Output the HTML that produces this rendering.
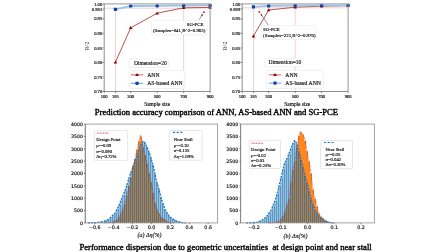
<!DOCTYPE html>
<html><head><meta charset="utf-8"><style>
html,body{margin:0;padding:0;background:#fff;width:448px;height:252px;overflow:hidden}
svg{display:block}
</style></head><body>
<svg width="448" height="252" viewBox="0 0 448 252"><line x1="115.45" y1="91.50" x2="115.45" y2="8.20" stroke="#f0c6ca" stroke-width="0.85"/>
<line x1="183.62" y1="91.50" x2="183.62" y2="8.20" stroke="#f0c6ca" stroke-width="0.85"/>
<line x1="104.20" y1="8.20" x2="210.10" y2="8.20" stroke="#f0c6ca" stroke-width="0.85"/>
<polyline points="115.45,62.30 130.68,27.80 157.15,13.20 183.62,7.80 210.10,7.40" fill="none" stroke="#a82424" stroke-width="0.8"/>
<polygon points="113.65,63.60 117.25,63.60 115.45,60.50" fill="#900000"/>
<polygon points="128.88,29.10 132.48,29.10 130.68,26.00" fill="#900000"/>
<polygon points="155.35,14.50 158.95,14.50 157.15,11.40" fill="#900000"/>
<polygon points="181.82,9.10 185.43,9.10 183.62,6.00" fill="#900000"/>
<polygon points="208.30,8.70 211.90,8.70 210.10,5.60" fill="#900000"/>
<polyline points="115.45,9.30 130.68,6.00 157.15,5.80 183.62,5.50 210.10,5.40" fill="none" stroke="#98c4e6" stroke-width="1.8"/>
<rect x="113.85" y="7.70" width="3.2" height="3.2" rx="0.6" fill="#0b44a6"/>
<rect x="129.08" y="4.40" width="3.2" height="3.2" rx="0.6" fill="#0b44a6"/>
<rect x="155.55" y="4.20" width="3.2" height="3.2" rx="0.6" fill="#0b44a6"/>
<rect x="182.03" y="3.90" width="3.2" height="3.2" rx="0.6" fill="#0b44a6"/>
<rect x="208.50" y="3.80" width="3.2" height="3.2" rx="0.6" fill="#0b44a6"/>
<circle cx="204.00" cy="12.20" r="1.0" fill="#ff1a1a"/>
<line x1="202.70" y1="14.00" x2="199.10" y2="19.80" stroke="#333" stroke-width="0.5"/>
<polygon points="202.70,14.00 200.98,15.17 202.42,16.06" fill="#111"/>
<rect x="151.5" y="20.2" width="55.80" height="14.50" rx="1" fill="#fff" fill-opacity="0.85" stroke="#e4e4e4" stroke-width="0.5"/>
<text x="203.50" y="26.30" font-size="4.85" font-family="'Liberation Serif','Times New Roman',serif" text-anchor="end" fill="#111" stroke="#111" stroke-width="0.15" >SG-PCE</text>
<text x="152.90" y="32.40" font-size="4.85" font-family="'Liberation Serif','Times New Roman',serif" text-anchor="start" fill="#111" stroke="#111" stroke-width="0.15" >(Samples=841,R^2=0.963)</text>
<rect x="129.2" y="58.9" width="39.10" height="8.60" rx="1" fill="#fff" stroke="#e0e0e0" stroke-width="0.5"/>
<text x="133.90" y="65.30" font-size="5.5" font-family="'Liberation Serif','Times New Roman',serif" text-anchor="start" fill="#111" stroke="#111" stroke-width="0.15" >Dimension=20</text>
<rect x="129.2" y="70.7" width="55.50" height="17.80" rx="1" fill="#fff" fill-opacity="0.9" stroke="#e0e0e0" stroke-width="0.5"/>
<line x1="130.8" y1="74.8" x2="143.3" y2="74.8" stroke="#cc7070" stroke-width="1.1"/>
<polygon points="135.15,76.10 138.95,76.10 137.05,72.90" fill="#900000"/>
<line x1="130.8" y1="83.3" x2="143.3" y2="83.3" stroke="#6a9fd0" stroke-width="1.0"/>
<rect x="135.45" y="81.70" width="3.2" height="3.2" rx="0.6" fill="#0b44a6"/>
<text x="147.20" y="76.70" font-size="5.7" font-family="'Liberation Serif','Times New Roman',serif" text-anchor="start" fill="#111" stroke="#111" stroke-width="0.15" >ANN</text>
<text x="147.20" y="85.20" font-size="5.7" font-family="'Liberation Serif','Times New Roman',serif" text-anchor="start" fill="#111" stroke="#111" stroke-width="0.15" >AS-based ANN</text>
<line x1="104.20" y1="3.80" x2="210.10" y2="3.80" stroke="#ababab" stroke-width="1.3"/>
<line x1="210.10" y1="3.80" x2="210.10" y2="91.50" stroke="#8e8e8e" stroke-width="0.95"/>
<line x1="104.20" y1="91.50" x2="210.10" y2="91.50" stroke="#8a8a8a" stroke-width="0.95"/>
<line x1="104.20" y1="3.80" x2="104.20" y2="91.50" stroke="#808080" stroke-width="0.9"/>
<line x1="104.20" y1="91.50" x2="104.20" y2="93.10" stroke="#444" stroke-width="0.6"/>
<text x="104.20" y="98.40" font-size="4.6" font-family="'Liberation Serif','Times New Roman',serif" text-anchor="middle" fill="#111" stroke="#111" stroke-width="0.15" >100</text>
<line x1="115.45" y1="91.50" x2="115.45" y2="93.10" stroke="#444" stroke-width="0.6"/>
<text x="115.45" y="98.40" font-size="4.6" font-family="'Liberation Serif','Times New Roman',serif" text-anchor="middle" fill="#111" stroke="#111" stroke-width="0.15" >185</text>
<line x1="130.68" y1="91.50" x2="130.68" y2="93.10" stroke="#444" stroke-width="0.6"/>
<text x="130.68" y="98.40" font-size="4.6" font-family="'Liberation Serif','Times New Roman',serif" text-anchor="middle" fill="#111" stroke="#111" stroke-width="0.15" >300</text>
<line x1="157.15" y1="91.50" x2="157.15" y2="93.10" stroke="#444" stroke-width="0.6"/>
<text x="157.15" y="98.40" font-size="4.6" font-family="'Liberation Serif','Times New Roman',serif" text-anchor="middle" fill="#111" stroke="#111" stroke-width="0.15" >500</text>
<line x1="183.62" y1="91.50" x2="183.62" y2="93.10" stroke="#444" stroke-width="0.6"/>
<text x="183.62" y="98.40" font-size="4.6" font-family="'Liberation Serif','Times New Roman',serif" text-anchor="middle" fill="#111" stroke="#111" stroke-width="0.15" >700</text>
<line x1="210.10" y1="91.50" x2="210.10" y2="93.10" stroke="#444" stroke-width="0.6"/>
<text x="210.10" y="98.40" font-size="4.6" font-family="'Liberation Serif','Times New Roman',serif" text-anchor="middle" fill="#111" stroke="#111" stroke-width="0.15" >900</text>
<line x1="102.60" y1="4.00" x2="104.20" y2="4.00" stroke="#444" stroke-width="0.6"/>
<text x="102.20" y="5.60" font-size="4.6" font-family="'Liberation Serif','Times New Roman',serif" text-anchor="end" fill="#111" stroke="#111" stroke-width="0.15" >1.00</text>
<line x1="102.60" y1="9.20" x2="104.20" y2="9.20" stroke="#444" stroke-width="0.6"/>
<text x="102.20" y="10.80" font-size="4.6" font-family="'Liberation Serif','Times New Roman',serif" text-anchor="end" fill="#111" stroke="#111" stroke-width="0.15" >0.983</text>
<line x1="102.60" y1="18.70" x2="104.20" y2="18.70" stroke="#444" stroke-width="0.6"/>
<text x="102.20" y="20.30" font-size="4.6" font-family="'Liberation Serif','Times New Roman',serif" text-anchor="end" fill="#111" stroke="#111" stroke-width="0.15" >0.95</text>
<line x1="102.60" y1="33.30" x2="104.20" y2="33.30" stroke="#444" stroke-width="0.6"/>
<text x="102.20" y="34.90" font-size="4.6" font-family="'Liberation Serif','Times New Roman',serif" text-anchor="end" fill="#111" stroke="#111" stroke-width="0.15" >0.90</text>
<line x1="102.60" y1="47.90" x2="104.20" y2="47.90" stroke="#444" stroke-width="0.6"/>
<text x="102.20" y="49.50" font-size="4.6" font-family="'Liberation Serif','Times New Roman',serif" text-anchor="end" fill="#111" stroke="#111" stroke-width="0.15" >0.85</text>
<line x1="102.60" y1="62.40" x2="104.20" y2="62.40" stroke="#444" stroke-width="0.6"/>
<text x="102.20" y="64.00" font-size="4.6" font-family="'Liberation Serif','Times New Roman',serif" text-anchor="end" fill="#111" stroke="#111" stroke-width="0.15" >0.80</text>
<line x1="102.60" y1="77.00" x2="104.20" y2="77.00" stroke="#444" stroke-width="0.6"/>
<text x="102.20" y="78.60" font-size="4.6" font-family="'Liberation Serif','Times New Roman',serif" text-anchor="end" fill="#111" stroke="#111" stroke-width="0.15" >0.75</text>
<line x1="102.60" y1="91.50" x2="104.20" y2="91.50" stroke="#444" stroke-width="0.6"/>
<text x="102.20" y="93.10" font-size="4.6" font-family="'Liberation Serif','Times New Roman',serif" text-anchor="end" fill="#111" stroke="#111" stroke-width="0.15" >0.70</text>
<text x="157.15" y="105.60" font-size="5.4" font-family="'Liberation Serif','Times New Roman',serif" text-anchor="middle" fill="#111" stroke="#111" stroke-width="0.15" >Sample size</text>
<text transform="translate(89.20,45.85) rotate(-90)" font-size="5.2" font-family="'Liberation Serif','Times New Roman',serif" text-anchor="middle" fill="#111">R^2</text>
<line x1="253.45" y1="91.50" x2="253.45" y2="7.80" stroke="#f0c6ca" stroke-width="0.85"/>
<line x1="295.15" y1="91.50" x2="295.15" y2="7.80" stroke="#f0c6ca" stroke-width="0.85"/>
<line x1="242.20" y1="7.80" x2="348.10" y2="7.80" stroke="#f0c6ca" stroke-width="0.85"/>
<polyline points="253.45,36.10 268.68,10.00 295.15,7.20 321.62,6.20 348.10,5.60" fill="none" stroke="#a82424" stroke-width="0.8"/>
<polygon points="251.65,37.40 255.25,37.40 253.45,34.30" fill="#900000"/>
<polygon points="266.88,11.30 270.48,11.30 268.68,8.20" fill="#900000"/>
<polygon points="293.35,8.50 296.95,8.50 295.15,5.40" fill="#900000"/>
<polygon points="319.82,7.50 323.43,7.50 321.62,4.40" fill="#900000"/>
<polygon points="346.30,6.90 349.90,6.90 348.10,3.80" fill="#900000"/>
<polyline points="253.45,6.90 268.68,5.80 295.15,5.60 321.62,5.40 348.10,5.30" fill="none" stroke="#98c4e6" stroke-width="1.8"/>
<rect x="251.85" y="5.30" width="3.2" height="3.2" rx="0.6" fill="#0b44a6"/>
<rect x="267.07" y="4.20" width="3.2" height="3.2" rx="0.6" fill="#0b44a6"/>
<rect x="293.55" y="4.00" width="3.2" height="3.2" rx="0.6" fill="#0b44a6"/>
<rect x="320.02" y="3.80" width="3.2" height="3.2" rx="0.6" fill="#0b44a6"/>
<rect x="346.50" y="3.70" width="3.2" height="3.2" rx="0.6" fill="#0b44a6"/>
<circle cx="259.30" cy="11.90" r="1.0" fill="#ff1a1a"/>
<line x1="260.70" y1="13.80" x2="268.20" y2="25.00" stroke="#333" stroke-width="0.5"/>
<polygon points="260.70,13.80 261.05,15.85 262.46,14.91" fill="#111"/>
<rect x="261.5" y="25.6" width="54.80" height="13.90" rx="1" fill="#fff" fill-opacity="0.85" stroke="#e4e4e4" stroke-width="0.5"/>
<text x="263.10" y="30.70" font-size="4.85" font-family="'Liberation Serif','Times New Roman',serif" text-anchor="start" fill="#111" stroke="#111" stroke-width="0.15" >SG-PCE</text>
<text x="263.10" y="37.20" font-size="4.85" font-family="'Liberation Serif','Times New Roman',serif" text-anchor="start" fill="#111" stroke="#111" stroke-width="0.15" >(Samples=221,R^2=0.970)</text>
<rect x="264.7" y="58.4" width="38.30" height="8.30" rx="1" fill="#fff" stroke="#e0e0e0" stroke-width="0.5"/>
<text x="268.60" y="64.30" font-size="5.5" font-family="'Liberation Serif','Times New Roman',serif" text-anchor="start" fill="#111" stroke="#111" stroke-width="0.15" >Dimension=10</text>
<rect x="267.0" y="70.2" width="56.30" height="18.30" rx="1" fill="#fff" fill-opacity="0.9" stroke="#e0e0e0" stroke-width="0.5"/>
<line x1="268.9" y1="74.8" x2="281.1" y2="74.8" stroke="#cc7070" stroke-width="1.1"/>
<polygon points="273.10,76.10 276.90,76.10 275.00,72.90" fill="#900000"/>
<line x1="268.9" y1="83.1" x2="281.1" y2="83.1" stroke="#6a9fd0" stroke-width="1.0"/>
<rect x="273.40" y="81.50" width="3.2" height="3.2" rx="0.6" fill="#0b44a6"/>
<text x="285.30" y="76.70" font-size="5.7" font-family="'Liberation Serif','Times New Roman',serif" text-anchor="start" fill="#111" stroke="#111" stroke-width="0.15" >ANN</text>
<text x="285.30" y="85.00" font-size="5.7" font-family="'Liberation Serif','Times New Roman',serif" text-anchor="start" fill="#111" stroke="#111" stroke-width="0.15" >AS-based ANN</text>
<line x1="242.20" y1="3.80" x2="348.10" y2="3.80" stroke="#ababab" stroke-width="1.3"/>
<line x1="348.10" y1="3.80" x2="348.10" y2="91.50" stroke="#8e8e8e" stroke-width="0.95"/>
<line x1="242.20" y1="91.50" x2="348.10" y2="91.50" stroke="#8a8a8a" stroke-width="0.95"/>
<line x1="242.20" y1="3.80" x2="242.20" y2="91.50" stroke="#808080" stroke-width="0.9"/>
<line x1="242.20" y1="91.50" x2="242.20" y2="93.10" stroke="#444" stroke-width="0.6"/>
<text x="242.20" y="98.40" font-size="4.6" font-family="'Liberation Serif','Times New Roman',serif" text-anchor="middle" fill="#111" stroke="#111" stroke-width="0.15" >100</text>
<line x1="253.45" y1="91.50" x2="253.45" y2="93.10" stroke="#444" stroke-width="0.6"/>
<text x="253.45" y="98.40" font-size="4.6" font-family="'Liberation Serif','Times New Roman',serif" text-anchor="middle" fill="#111" stroke="#111" stroke-width="0.15" >185</text>
<line x1="268.68" y1="91.50" x2="268.68" y2="93.10" stroke="#444" stroke-width="0.6"/>
<text x="268.68" y="98.40" font-size="4.6" font-family="'Liberation Serif','Times New Roman',serif" text-anchor="middle" fill="#111" stroke="#111" stroke-width="0.15" >300</text>
<line x1="295.15" y1="91.50" x2="295.15" y2="93.10" stroke="#444" stroke-width="0.6"/>
<text x="295.15" y="98.40" font-size="4.6" font-family="'Liberation Serif','Times New Roman',serif" text-anchor="middle" fill="#111" stroke="#111" stroke-width="0.15" >500</text>
<line x1="321.62" y1="91.50" x2="321.62" y2="93.10" stroke="#444" stroke-width="0.6"/>
<text x="321.62" y="98.40" font-size="4.6" font-family="'Liberation Serif','Times New Roman',serif" text-anchor="middle" fill="#111" stroke="#111" stroke-width="0.15" >700</text>
<line x1="348.10" y1="91.50" x2="348.10" y2="93.10" stroke="#444" stroke-width="0.6"/>
<text x="348.10" y="98.40" font-size="4.6" font-family="'Liberation Serif','Times New Roman',serif" text-anchor="middle" fill="#111" stroke="#111" stroke-width="0.15" >900</text>
<line x1="240.60" y1="3.90" x2="242.20" y2="3.90" stroke="#444" stroke-width="0.6"/>
<text x="240.20" y="5.50" font-size="4.6" font-family="'Liberation Serif','Times New Roman',serif" text-anchor="end" fill="#111" stroke="#111" stroke-width="0.15" >1.00</text>
<line x1="240.60" y1="8.90" x2="242.20" y2="8.90" stroke="#444" stroke-width="0.6"/>
<text x="240.20" y="10.50" font-size="4.6" font-family="'Liberation Serif','Times New Roman',serif" text-anchor="end" fill="#111" stroke="#111" stroke-width="0.15" >0.989</text>
<line x1="240.60" y1="18.70" x2="242.20" y2="18.70" stroke="#444" stroke-width="0.6"/>
<text x="240.20" y="20.30" font-size="4.6" font-family="'Liberation Serif','Times New Roman',serif" text-anchor="end" fill="#111" stroke="#111" stroke-width="0.15" >0.95</text>
<line x1="240.60" y1="33.30" x2="242.20" y2="33.30" stroke="#444" stroke-width="0.6"/>
<text x="240.20" y="34.90" font-size="4.6" font-family="'Liberation Serif','Times New Roman',serif" text-anchor="end" fill="#111" stroke="#111" stroke-width="0.15" >0.90</text>
<line x1="240.60" y1="47.90" x2="242.20" y2="47.90" stroke="#444" stroke-width="0.6"/>
<text x="240.20" y="49.50" font-size="4.6" font-family="'Liberation Serif','Times New Roman',serif" text-anchor="end" fill="#111" stroke="#111" stroke-width="0.15" >0.85</text>
<line x1="240.60" y1="62.40" x2="242.20" y2="62.40" stroke="#444" stroke-width="0.6"/>
<text x="240.20" y="64.00" font-size="4.6" font-family="'Liberation Serif','Times New Roman',serif" text-anchor="end" fill="#111" stroke="#111" stroke-width="0.15" >0.80</text>
<line x1="240.60" y1="77.00" x2="242.20" y2="77.00" stroke="#444" stroke-width="0.6"/>
<text x="240.20" y="78.60" font-size="4.6" font-family="'Liberation Serif','Times New Roman',serif" text-anchor="end" fill="#111" stroke="#111" stroke-width="0.15" >0.75</text>
<line x1="240.60" y1="91.50" x2="242.20" y2="91.50" stroke="#444" stroke-width="0.6"/>
<text x="240.20" y="93.10" font-size="4.6" font-family="'Liberation Serif','Times New Roman',serif" text-anchor="end" fill="#111" stroke="#111" stroke-width="0.15" >0.70</text>
<text x="297.25" y="105.60" font-size="5.4" font-family="'Liberation Serif','Times New Roman',serif" text-anchor="middle" fill="#111" stroke="#111" stroke-width="0.15" >Sample size</text>
<text transform="translate(227.20,45.85) rotate(-90)" font-size="5.2" font-family="'Liberation Serif','Times New Roman',serif" text-anchor="middle" fill="#111">R^2</text>
<text x="94.80" y="114.60" font-size="8.58" font-family="'Liberation Serif','Times New Roman',serif" text-anchor="start" fill="#000" stroke="#000" stroke-width="0.38" >Prediction accuracy comparison of ANN, AS-based ANN and SG-PCE</text>
<path d="M84.00,222.90L84.00,222.90L86.00,222.90L86.00,222.90L88.00,222.90L88.00,222.90L90.00,222.90L90.00,222.90L92.00,222.90L92.00,222.90L94.00,222.90L94.00,222.90L96.00,222.90L96.00,222.90L98.00,222.90L98.00,222.90L100.00,222.90L100.00,222.90L102.00,222.90L102.00,222.90L104.00,222.90L104.00,222.85L106.00,222.85L106.00,222.75L108.00,222.75L108.00,222.55L110.00,222.55L110.00,222.24L112.00,222.24L112.00,221.94L114.00,221.94L114.00,221.05L116.00,221.05L116.00,219.68L118.00,219.68L118.00,217.04L120.00,217.04L120.00,213.73L122.00,213.73L122.00,209.29L124.00,209.29L124.00,204.00L126.00,204.00L126.00,195.81L128.00,195.81L128.00,186.82L130.00,186.82L130.00,177.94L132.00,177.94L132.00,165.71L134.00,165.71L134.00,159.13L136.00,159.13L136.00,149.70L138.00,149.70L138.00,141.18L140.00,141.18L140.00,136.78L142.00,136.78L142.00,147.50L144.00,147.50L144.00,155.31L146.00,155.31L146.00,163.69L148.00,163.69L148.00,173.39L150.00,173.39L150.00,182.23L152.00,182.23L152.00,193.18L154.00,193.18L154.00,203.23L156.00,203.23L156.00,209.68L158.00,209.68L158.00,213.59L160.00,213.59L160.00,217.15L162.00,217.15L162.00,218.66L164.00,218.66L164.00,220.17L166.00,220.17L166.00,221.35L168.00,221.35L168.00,222.12L170.00,222.12L170.00,222.60L172.00,222.60L172.00,222.80L174.00,222.80L174.00,222.90L176.00,222.90L176.00,222.90L178.00,222.90L178.00,222.90L180.00,222.90L180.00,222.90L182.00,222.90L182.00,222.90L184.00,222.90L184.00,222.90L186.00,222.90L186.00,222.90L188.00,222.90L188.00,222.90L190.00,222.90L190.00,222.90L192.00,222.90L192.00,222.90L194.00,222.90L194.00,222.90L196.00,222.90L196.00,222.90L198.00,222.90L198.00,222.90L200.00,222.90L200.00,222.90L202.00,222.90L202.00,222.90L204.00,222.90L204.00,222.90L206.00,222.90L206.00,222.90L208.00,222.90L208.00,222.90L210.00,222.90L210.00,222.90L212.00,222.90L212.00,222.90L214.00,222.90L214.00,222.90L216.00,222.90L216.00,222.90L218.00,222.90L218.00,222.90Z" fill="#ff8720" fill-opacity="1.0"/>
<path d="M84.00,222.90L84.00,222.90L86.00,222.90L86.00,222.90L88.00,222.90L88.00,222.86L90.00,222.86L90.00,222.79L92.00,222.79L92.00,222.71L94.00,222.71L94.00,222.64L96.00,222.64L96.00,222.47L98.00,222.47L98.00,222.21L100.00,222.21L100.00,221.96L102.00,221.96L102.00,221.70L104.00,221.70L104.00,220.84L106.00,220.84L106.00,219.98L108.00,219.98L108.00,219.00L110.00,219.00L110.00,217.03L112.00,217.03L112.00,215.07L114.00,215.07L114.00,213.10L116.00,213.10L116.00,209.25L118.00,209.25L118.00,205.20L120.00,205.20L120.00,200.30L122.00,200.30L122.00,195.46L124.00,195.46L124.00,190.71L126.00,190.71L126.00,184.55L128.00,184.55L128.00,178.13L130.00,178.13L130.00,172.03L132.00,172.03L132.00,167.18L134.00,167.18L134.00,161.43L136.00,161.43L136.00,155.37L138.00,155.37L138.00,149.23L140.00,149.23L140.00,143.87L142.00,143.87L142.00,141.68L144.00,141.68L144.00,143.02L146.00,143.02L146.00,147.09L148.00,147.09L148.00,152.00L150.00,152.00L150.00,158.09L152.00,158.09L152.00,164.89L154.00,164.89L154.00,173.93L156.00,173.93L156.00,182.52L158.00,182.52L158.00,189.32L160.00,189.32L160.00,197.20L162.00,197.20L162.00,203.71L164.00,203.71L164.00,209.43L166.00,209.43L166.00,212.80L168.00,212.80L168.00,215.91L170.00,215.91L170.00,217.76L172.00,217.76L172.00,218.94L174.00,218.94L174.00,220.12L176.00,220.12L176.00,221.15L178.00,221.15L178.00,221.73L180.00,221.73L180.00,222.31L182.00,222.31L182.00,222.68L184.00,222.68L184.00,222.82L186.00,222.82L186.00,222.90L188.00,222.90L188.00,222.90L190.00,222.90L190.00,222.90L192.00,222.90L192.00,222.90L194.00,222.90L194.00,222.90L196.00,222.90L196.00,222.90L198.00,222.90L198.00,222.90L200.00,222.90L200.00,222.90L202.00,222.90L202.00,222.90L204.00,222.90L204.00,222.90L206.00,222.90L206.00,222.90L208.00,222.90L208.00,222.90L210.00,222.90L210.00,222.90L212.00,222.90L212.00,222.90L214.00,222.90L214.00,222.90L216.00,222.90L216.00,222.90L218.00,222.90L218.00,222.90Z" fill="#2d87c3" fill-opacity="0.5"/>
<g fill="#3c3228" fill-opacity="0.36" shape-rendering="crispEdges"><rect x="112" y="222.24" width="1" height="0.66"/><rect x="114" y="221.94" width="1" height="0.96"/><rect x="116" y="221.05" width="1" height="1.85"/><rect x="118" y="219.68" width="1" height="3.22"/><rect x="120" y="217.04" width="1" height="5.86"/><rect x="122" y="213.73" width="1" height="9.17"/><rect x="124" y="209.29" width="1" height="13.61"/><rect x="126" y="204.00" width="1" height="18.90"/><rect x="128" y="195.81" width="1" height="27.09"/><rect x="130" y="186.82" width="1" height="36.08"/><rect x="132" y="177.94" width="1" height="44.96"/><rect x="134" y="167.18" width="1" height="55.72"/><rect x="136" y="161.43" width="1" height="61.47"/><rect x="138" y="155.37" width="1" height="67.53"/><rect x="140" y="149.23" width="1" height="73.67"/><rect x="142" y="147.50" width="1" height="75.40"/><rect x="144" y="155.31" width="1" height="67.59"/><rect x="146" y="163.69" width="1" height="59.21"/><rect x="148" y="173.39" width="1" height="49.51"/><rect x="150" y="182.23" width="1" height="40.67"/><rect x="152" y="193.18" width="1" height="29.72"/><rect x="154" y="203.23" width="1" height="19.67"/><rect x="156" y="209.68" width="1" height="13.22"/><rect x="158" y="213.59" width="1" height="9.31"/><rect x="160" y="217.15" width="1" height="5.75"/><rect x="162" y="218.66" width="1" height="4.24"/><rect x="164" y="220.17" width="1" height="2.73"/><rect x="166" y="221.35" width="1" height="1.55"/><rect x="168" y="222.12" width="1" height="0.78"/></g>
<g fill="#1f6aa5" fill-opacity="0.5" shape-rendering="crispEdges"><rect x="100" y="222.21" width="1" height="0.69"/><rect x="102" y="221.96" width="1" height="0.94"/><rect x="104" y="221.70" width="1" height="1.20"/><rect x="106" y="220.84" width="1" height="2.06"/><rect x="108" y="219.98" width="1" height="2.92"/><rect x="110" y="219.00" width="1" height="3.90"/><rect x="112" y="217.03" width="1" height="5.21"/><rect x="114" y="215.07" width="1" height="6.87"/><rect x="116" y="213.10" width="1" height="7.95"/><rect x="118" y="209.25" width="1" height="10.43"/><rect x="120" y="205.20" width="1" height="11.84"/><rect x="122" y="200.30" width="1" height="13.43"/><rect x="124" y="195.46" width="1" height="13.83"/><rect x="126" y="190.71" width="1" height="13.29"/><rect x="128" y="184.55" width="1" height="11.26"/><rect x="130" y="178.13" width="1" height="8.69"/><rect x="132" y="172.03" width="1" height="5.91"/><rect x="142" y="143.87" width="1" height="3.63"/><rect x="144" y="143.02" width="1" height="12.29"/><rect x="146" y="147.09" width="1" height="16.60"/><rect x="148" y="152.00" width="1" height="21.39"/><rect x="150" y="158.09" width="1" height="24.14"/><rect x="152" y="164.89" width="1" height="28.30"/><rect x="154" y="173.93" width="1" height="29.29"/><rect x="156" y="182.52" width="1" height="27.16"/><rect x="158" y="189.32" width="1" height="24.27"/><rect x="160" y="197.20" width="1" height="19.95"/><rect x="162" y="203.71" width="1" height="14.95"/><rect x="164" y="209.43" width="1" height="10.74"/><rect x="166" y="212.80" width="1" height="8.55"/><rect x="168" y="215.91" width="1" height="6.20"/><rect x="170" y="217.76" width="1" height="5.14"/><rect x="172" y="218.94" width="1" height="3.96"/><rect x="174" y="220.12" width="1" height="2.78"/><rect x="176" y="221.15" width="1" height="1.75"/><rect x="178" y="221.73" width="1" height="1.17"/><rect x="180" y="222.31" width="1" height="0.59"/></g>
<polyline points="104.00,222.90 108.00,222.70 113.90,221.80 117.70,219.20 121.50,212.90 124.70,205.20 126.60,197.60 128.30,190.00 130.50,180.00 132.20,173.00 132.70,166.70 135.10,158.80 136.70,150.90 138.70,142.90 139.80,136.60 140.50,135.40 141.80,139.00 143.00,147.50 146.20,160.00 147.50,166.00 150.30,179.80 151.80,185.00 154.00,200.00 157.10,210.00 160.80,217.00 166.10,221.00 170.00,222.50 174.00,222.90" fill="none" stroke="#a02414" stroke-width="0.8" stroke-dasharray="0.6,0.7"/>
<polyline points="88.00,222.90 96.00,222.60 103.00,221.70 108.80,219.20 115.20,212.90 119.00,205.20 122.10,197.60 125.30,190.00 130.60,173.00 133.20,166.70 135.90,158.80 138.40,151.00 140.60,144.50 142.00,142.30 143.30,141.50 144.30,141.60 147.20,147.50 149.60,153.50 151.40,159.40 153.50,166.60 156.20,179.80 159.20,190.00 161.70,200.00 165.20,210.00 169.70,217.00 176.50,221.00 182.00,222.60 186.00,222.90" fill="none" stroke="#2272b8" stroke-width="1.3" stroke-dasharray="2.0,1.2"/>
<rect x="94.3" y="130.6" width="33.40" height="29.80" rx="0.8" fill="#fff" fill-opacity="0.85" stroke="#cfcfcf" stroke-width="0.5"/>
<line x1="97.0" y1="133.1" x2="108.7" y2="133.1" stroke="#c4405c" stroke-width="1.0" stroke-dasharray="0.9,0.6"/>
<text x="96.30" y="141.20" font-size="4.7" font-family="'Liberation Serif','Times New Roman',serif" text-anchor="start" fill="#111" stroke="#111" stroke-width="0.15" >Design Point</text>
<text x="96.30" y="147.10" font-size="4.7" font-family="'Liberation Serif','Times New Roman',serif" text-anchor="start" fill="#111" stroke="#111" stroke-width="0.15" >μ=-0.09</text>
<text x="96.30" y="152.60" font-size="4.7" font-family="'Liberation Serif','Times New Roman',serif" text-anchor="start" fill="#111" stroke="#111" stroke-width="0.15" >σ=0.090</text>
<text x="96.30" y="158.20" font-size="4.7" font-family="'Liberation Serif','Times New Roman',serif" text-anchor="start" fill="#111" stroke="#111" stroke-width="0.15" >Δη=0.72%</text>
<rect x="169.3" y="130.5" width="32.80" height="29.70" rx="0.8" fill="#fff" fill-opacity="0.85" stroke="#cfcfcf" stroke-width="0.5"/>
<line x1="172.9" y1="132.3" x2="183.3" y2="132.3" stroke="#2a78b5" stroke-width="1.2" stroke-dasharray="2.2,1.5"/>
<text x="173.70" y="141.40" font-size="4.7" font-family="'Liberation Serif','Times New Roman',serif" text-anchor="start" fill="#111" stroke="#111" stroke-width="0.15" >Near Stall</text>
<text x="173.70" y="146.70" font-size="4.7" font-family="'Liberation Serif','Times New Roman',serif" text-anchor="start" fill="#111" stroke="#111" stroke-width="0.15" >μ=-0.10</text>
<text x="173.70" y="152.10" font-size="4.7" font-family="'Liberation Serif','Times New Roman',serif" text-anchor="start" fill="#111" stroke="#111" stroke-width="0.15" >σ=0.135</text>
<text x="173.70" y="157.60" font-size="4.7" font-family="'Liberation Serif','Times New Roman',serif" text-anchor="start" fill="#111" stroke="#111" stroke-width="0.15" >Δη=1.09%</text>
<rect x="85.30" y="124.10" width="132.30" height="98.80" fill="none" stroke="#9a9a9a" stroke-width="0.9"/>
<line x1="85.30" y1="124.10" x2="85.30" y2="222.90" stroke="#858585" stroke-width="0.9"/>
<line x1="94.75" y1="222.90" x2="94.75" y2="224.30" stroke="#333" stroke-width="0.5"/>
<text x="94.75" y="229.10" font-size="4.8" font-family="'DejaVu Sans','Liberation Sans',sans-serif" text-anchor="middle" fill="#111" stroke="#111" stroke-width="0.15" >−0.6</text>
<line x1="113.65" y1="222.90" x2="113.65" y2="224.30" stroke="#333" stroke-width="0.5"/>
<text x="113.65" y="229.10" font-size="4.8" font-family="'DejaVu Sans','Liberation Sans',sans-serif" text-anchor="middle" fill="#111" stroke="#111" stroke-width="0.15" >−0.4</text>
<line x1="132.55" y1="222.90" x2="132.55" y2="224.30" stroke="#333" stroke-width="0.5"/>
<text x="132.55" y="229.10" font-size="4.8" font-family="'DejaVu Sans','Liberation Sans',sans-serif" text-anchor="middle" fill="#111" stroke="#111" stroke-width="0.15" >−0.2</text>
<line x1="151.45" y1="222.90" x2="151.45" y2="224.30" stroke="#333" stroke-width="0.5"/>
<text x="151.45" y="229.10" font-size="4.8" font-family="'DejaVu Sans','Liberation Sans',sans-serif" text-anchor="middle" fill="#111" stroke="#111" stroke-width="0.15" >0.0</text>
<line x1="170.35" y1="222.90" x2="170.35" y2="224.30" stroke="#333" stroke-width="0.5"/>
<text x="170.35" y="229.10" font-size="4.8" font-family="'DejaVu Sans','Liberation Sans',sans-serif" text-anchor="middle" fill="#111" stroke="#111" stroke-width="0.15" >0.2</text>
<line x1="189.25" y1="222.90" x2="189.25" y2="224.30" stroke="#333" stroke-width="0.5"/>
<text x="189.25" y="229.10" font-size="4.8" font-family="'DejaVu Sans','Liberation Sans',sans-serif" text-anchor="middle" fill="#111" stroke="#111" stroke-width="0.15" >0.4</text>
<line x1="208.15" y1="222.90" x2="208.15" y2="224.30" stroke="#333" stroke-width="0.5"/>
<text x="208.15" y="229.10" font-size="4.8" font-family="'DejaVu Sans','Liberation Sans',sans-serif" text-anchor="middle" fill="#111" stroke="#111" stroke-width="0.15" >0.6</text>
<line x1="83.90" y1="222.90" x2="85.30" y2="222.90" stroke="#333" stroke-width="0.5"/>
<text x="82.90" y="224.80" font-size="4.7" font-family="'DejaVu Sans','Liberation Sans',sans-serif" text-anchor="end" fill="#111" stroke="#111" stroke-width="0.15" >0</text>
<line x1="83.90" y1="210.55" x2="85.30" y2="210.55" stroke="#333" stroke-width="0.5"/>
<text x="82.90" y="212.45" font-size="4.7" font-family="'DejaVu Sans','Liberation Sans',sans-serif" text-anchor="end" fill="#111" stroke="#111" stroke-width="0.15" >500</text>
<line x1="83.90" y1="198.20" x2="85.30" y2="198.20" stroke="#333" stroke-width="0.5"/>
<text x="82.90" y="200.10" font-size="4.7" font-family="'DejaVu Sans','Liberation Sans',sans-serif" text-anchor="end" fill="#111" stroke="#111" stroke-width="0.15" >1000</text>
<line x1="83.90" y1="185.85" x2="85.30" y2="185.85" stroke="#333" stroke-width="0.5"/>
<text x="82.90" y="187.75" font-size="4.7" font-family="'DejaVu Sans','Liberation Sans',sans-serif" text-anchor="end" fill="#111" stroke="#111" stroke-width="0.15" >1500</text>
<line x1="83.90" y1="173.50" x2="85.30" y2="173.50" stroke="#333" stroke-width="0.5"/>
<text x="82.90" y="175.40" font-size="4.7" font-family="'DejaVu Sans','Liberation Sans',sans-serif" text-anchor="end" fill="#111" stroke="#111" stroke-width="0.15" >2000</text>
<line x1="83.90" y1="161.15" x2="85.30" y2="161.15" stroke="#333" stroke-width="0.5"/>
<text x="82.90" y="163.05" font-size="4.7" font-family="'DejaVu Sans','Liberation Sans',sans-serif" text-anchor="end" fill="#111" stroke="#111" stroke-width="0.15" >2500</text>
<line x1="83.90" y1="148.80" x2="85.30" y2="148.80" stroke="#333" stroke-width="0.5"/>
<text x="82.90" y="150.70" font-size="4.7" font-family="'DejaVu Sans','Liberation Sans',sans-serif" text-anchor="end" fill="#111" stroke="#111" stroke-width="0.15" >3000</text>
<line x1="83.90" y1="136.45" x2="85.30" y2="136.45" stroke="#333" stroke-width="0.5"/>
<text x="82.90" y="138.35" font-size="4.7" font-family="'DejaVu Sans','Liberation Sans',sans-serif" text-anchor="end" fill="#111" stroke="#111" stroke-width="0.15" >3500</text>
<line x1="83.90" y1="124.10" x2="85.30" y2="124.10" stroke="#333" stroke-width="0.5"/>
<text x="82.90" y="126.00" font-size="4.7" font-family="'DejaVu Sans','Liberation Sans',sans-serif" text-anchor="end" fill="#111" stroke="#111" stroke-width="0.15" >4000</text>
<text x="149.50" y="237.20" font-size="6.0" font-family="'Liberation Serif','Times New Roman',serif" text-anchor="middle" fill="#111" stroke="#111" stroke-width="0.15" font-style="italic">(a) Δη(%)</text>
<path d="M240.00,222.90L240.00,222.90L242.00,222.90L242.00,222.90L244.00,222.90L244.00,222.90L246.00,222.90L246.00,222.90L248.00,222.90L248.00,222.90L250.00,222.90L250.00,222.90L252.00,222.90L252.00,222.90L254.00,222.90L254.00,222.90L256.00,222.90L256.00,222.90L258.00,222.90L258.00,222.90L260.00,222.90L260.00,222.90L262.00,222.90L262.00,222.90L264.00,222.90L264.00,222.90L266.00,222.90L266.00,222.90L268.00,222.90L268.00,222.85L270.00,222.85L270.00,222.75L272.00,222.75L272.00,222.65L274.00,222.65L274.00,222.39L276.00,222.39L276.00,221.97L278.00,221.97L278.00,221.54L280.00,221.54L280.00,219.06L282.00,219.06L282.00,216.35L284.00,216.35L284.00,211.83L286.00,211.83L286.00,205.49L288.00,205.49L288.00,199.16L290.00,199.16L290.00,182.40L292.00,182.40L292.00,169.75L294.00,169.75L294.00,161.21L296.00,161.21L296.00,147.65L298.00,147.65L298.00,135.90L300.00,135.90L300.00,132.33L302.00,132.33L302.00,134.50L304.00,134.50L304.00,140.63L306.00,140.63L306.00,151.25L308.00,151.25L308.00,161.40L310.00,161.40L310.00,173.50L312.00,173.50L312.00,189.60L314.00,189.60L314.00,198.80L316.00,198.80L316.00,206.43L318.00,206.43L318.00,213.57L320.00,213.57L320.00,216.38L322.00,216.38L322.00,218.27L324.00,218.27L324.00,220.45L326.00,220.45L326.00,221.53L328.00,221.53L328.00,222.24L330.00,222.24L330.00,222.70L332.00,222.70L332.00,222.90L334.00,222.90L334.00,222.90L336.00,222.90L336.00,222.90L338.00,222.90L338.00,222.90L340.00,222.90L340.00,222.90L342.00,222.90L342.00,222.90L344.00,222.90L344.00,222.90L346.00,222.90L346.00,222.90L348.00,222.90L348.00,222.90L350.00,222.90L350.00,222.90L352.00,222.90L352.00,222.90L354.00,222.90L354.00,222.90L356.00,222.90L356.00,222.90L358.00,222.90L358.00,222.90L360.00,222.90L360.00,222.90L362.00,222.90L362.00,222.90L364.00,222.90L364.00,222.90L366.00,222.90L366.00,222.90L368.00,222.90L368.00,222.90L370.00,222.90L370.00,222.90L372.00,222.90L372.00,222.90L374.00,222.90L374.00,222.90L376.00,222.90L376.00,222.90Z" fill="#ff8720" fill-opacity="1.0"/>
<path d="M240.00,222.90L240.00,222.90L242.00,222.90L242.00,222.90L244.00,222.90L244.00,222.90L246.00,222.90L246.00,222.87L248.00,222.87L248.00,222.80L250.00,222.80L250.00,222.73L252.00,222.73L252.00,222.62L254.00,222.62L254.00,222.46L256.00,222.46L256.00,222.30L258.00,222.30L258.00,221.46L260.00,221.46L260.00,220.53L262.00,220.53L262.00,219.50L264.00,219.50L264.00,217.89L266.00,217.89L266.00,215.88L268.00,215.88L268.00,213.26L270.00,213.26L270.00,210.30L272.00,210.30L272.00,205.71L274.00,205.71L274.00,200.75L276.00,200.75L276.00,194.14L278.00,194.14L278.00,186.42L280.00,186.42L280.00,177.73L282.00,177.73L282.00,169.24L284.00,169.24L284.00,162.79L286.00,162.79L286.00,158.37L288.00,158.37L288.00,153.50L290.00,153.50L290.00,148.33L292.00,148.33L292.00,143.00L294.00,143.00L294.00,140.93L296.00,140.93L296.00,144.19L298.00,144.19L298.00,152.08L300.00,152.08L300.00,159.81L302.00,159.81L302.00,167.43L304.00,167.43L304.00,175.54L306.00,175.54L306.00,183.33L308.00,183.33L308.00,190.83L310.00,190.83L310.00,199.17L312.00,199.17L312.00,204.50L314.00,204.50L314.00,209.50L316.00,209.50L316.00,212.93L318.00,212.93L318.00,216.19L320.00,216.19L320.00,218.03L322.00,218.03L322.00,219.41L324.00,219.41L324.00,220.79L326.00,220.79L326.00,221.57L328.00,221.57L328.00,222.23L330.00,222.23L330.00,222.61L332.00,222.61L332.00,222.90L334.00,222.90L334.00,222.90L336.00,222.90L336.00,222.90L338.00,222.90L338.00,222.90L340.00,222.90L340.00,222.90L342.00,222.90L342.00,222.90L344.00,222.90L344.00,222.90L346.00,222.90L346.00,222.90L348.00,222.90L348.00,222.90L350.00,222.90L350.00,222.90L352.00,222.90L352.00,222.90L354.00,222.90L354.00,222.90L356.00,222.90L356.00,222.90L358.00,222.90L358.00,222.90L360.00,222.90L360.00,222.90L362.00,222.90L362.00,222.90L364.00,222.90L364.00,222.90L366.00,222.90L366.00,222.90L368.00,222.90L368.00,222.90L370.00,222.90L370.00,222.90L372.00,222.90L372.00,222.90L374.00,222.90L374.00,222.90L376.00,222.90L376.00,222.90Z" fill="#2d87c3" fill-opacity="0.5"/>
<g fill="#3c3228" fill-opacity="0.36" shape-rendering="crispEdges"><rect x="276" y="222.39" width="1" height="0.51"/><rect x="278" y="221.97" width="1" height="0.93"/><rect x="280" y="221.54" width="1" height="1.36"/><rect x="282" y="219.06" width="1" height="3.84"/><rect x="284" y="216.35" width="1" height="6.55"/><rect x="286" y="211.83" width="1" height="11.07"/><rect x="288" y="205.49" width="1" height="17.41"/><rect x="290" y="199.16" width="1" height="23.74"/><rect x="292" y="182.40" width="1" height="40.50"/><rect x="294" y="169.75" width="1" height="53.15"/><rect x="296" y="161.21" width="1" height="61.69"/><rect x="298" y="152.08" width="1" height="70.82"/><rect x="300" y="159.81" width="1" height="63.09"/><rect x="302" y="167.43" width="1" height="55.47"/><rect x="304" y="175.54" width="1" height="47.36"/><rect x="306" y="183.33" width="1" height="39.57"/><rect x="308" y="190.83" width="1" height="32.07"/><rect x="310" y="199.17" width="1" height="23.73"/><rect x="312" y="204.50" width="1" height="18.40"/><rect x="314" y="209.50" width="1" height="13.40"/><rect x="316" y="212.93" width="1" height="9.97"/><rect x="318" y="216.19" width="1" height="6.71"/><rect x="320" y="218.03" width="1" height="4.87"/><rect x="322" y="219.41" width="1" height="3.49"/><rect x="324" y="220.79" width="1" height="2.11"/><rect x="326" y="221.57" width="1" height="1.33"/><rect x="328" y="222.24" width="1" height="0.66"/></g>
<g fill="#1f6aa5" fill-opacity="0.5" shape-rendering="crispEdges"><rect x="258" y="222.30" width="1" height="0.60"/><rect x="260" y="221.46" width="1" height="1.44"/><rect x="262" y="220.53" width="1" height="2.37"/><rect x="264" y="219.50" width="1" height="3.40"/><rect x="266" y="217.89" width="1" height="5.01"/><rect x="268" y="215.88" width="1" height="7.02"/><rect x="270" y="213.26" width="1" height="9.64"/><rect x="272" y="210.30" width="1" height="12.60"/><rect x="274" y="205.71" width="1" height="17.19"/><rect x="276" y="200.75" width="1" height="21.64"/><rect x="278" y="194.14" width="1" height="27.83"/><rect x="280" y="186.42" width="1" height="35.12"/><rect x="282" y="177.73" width="1" height="41.33"/><rect x="284" y="169.24" width="1" height="47.11"/><rect x="286" y="162.79" width="1" height="49.04"/><rect x="288" y="158.37" width="1" height="47.12"/><rect x="290" y="153.50" width="1" height="45.66"/><rect x="292" y="148.33" width="1" height="34.07"/><rect x="294" y="143.00" width="1" height="26.75"/><rect x="296" y="144.19" width="1" height="17.02"/></g>
<polyline points="268.00,222.90 274.00,222.60 279.20,221.50 284.00,215.00 287.50,203.90 288.90,200.00 291.00,182.40 293.75,165.00 295.40,160.00 296.50,150.00 297.80,143.90 298.60,137.50 300.10,131.50 302.80,134.00 304.40,138.00 306.00,145.00 307.60,155.00 308.70,160.00 310.20,167.00 311.80,180.00 313.30,192.00 315.30,200.00 316.60,205.00 318.00,210.00 319.40,215.00 322.30,217.50 325.50,221.00 330.00,222.60 333.00,222.90" fill="none" stroke="#a02414" stroke-width="0.8" stroke-dasharray="0.6,0.7"/>
<polyline points="246.00,222.90 252.00,222.70 257.00,222.30 260.10,221.00 263.00,219.50 266.10,217.00 268.50,214.00 271.20,210.00 273.30,205.00 275.30,200.00 278.20,190.00 279.90,182.40 284.00,165.00 287.80,156.60 290.90,148.60 293.00,143.00 294.60,140.70 296.00,141.50 297.30,145.00 299.70,155.00 302.40,165.00 306.10,180.00 308.80,190.00 311.20,200.00 315.20,210.00 319.50,217.00 325.30,221.00 329.50,222.40 333.00,222.90" fill="none" stroke="#2272b8" stroke-width="1.3" stroke-dasharray="2.0,1.2"/>
<rect x="249.3" y="140.4" width="31.20" height="28.10" rx="0.8" fill="#fff" fill-opacity="0.85" stroke="#cfcfcf" stroke-width="0.5"/>
<line x1="251.6" y1="143.2" x2="263.2" y2="143.2" stroke="#c4405c" stroke-width="1.0" stroke-dasharray="0.9,0.6"/>
<text x="251.10" y="150.80" font-size="4.7" font-family="'Liberation Serif','Times New Roman',serif" text-anchor="start" fill="#111" stroke="#111" stroke-width="0.15" >Design Point</text>
<text x="251.10" y="156.80" font-size="4.7" font-family="'Liberation Serif','Times New Roman',serif" text-anchor="start" fill="#111" stroke="#111" stroke-width="0.15" >μ=-0.02</text>
<text x="251.10" y="161.70" font-size="4.7" font-family="'Liberation Serif','Times New Roman',serif" text-anchor="start" fill="#111" stroke="#111" stroke-width="0.15" >σ=0.03</text>
<text x="251.10" y="167.00" font-size="4.7" font-family="'Liberation Serif','Times New Roman',serif" text-anchor="start" fill="#111" stroke="#111" stroke-width="0.15" >Δπ=0.23%</text>
<rect x="320.6" y="140.6" width="31.90" height="28.10" rx="0.8" fill="#fff" fill-opacity="0.85" stroke="#cfcfcf" stroke-width="0.5"/>
<line x1="324.0" y1="142.5" x2="334.4" y2="142.5" stroke="#2a78b5" stroke-width="1.2" stroke-dasharray="2.2,1.5"/>
<text x="325.40" y="150.50" font-size="4.7" font-family="'Liberation Serif','Times New Roman',serif" text-anchor="start" fill="#111" stroke="#111" stroke-width="0.15" >Near Stall</text>
<text x="325.40" y="156.00" font-size="4.7" font-family="'Liberation Serif','Times New Roman',serif" text-anchor="start" fill="#111" stroke="#111" stroke-width="0.15" >μ=-0.05</text>
<text x="325.40" y="161.30" font-size="4.7" font-family="'Liberation Serif','Times New Roman',serif" text-anchor="start" fill="#111" stroke="#111" stroke-width="0.15" >σ=0.042</text>
<text x="325.40" y="166.20" font-size="4.7" font-family="'Liberation Serif','Times New Roman',serif" text-anchor="start" fill="#111" stroke="#111" stroke-width="0.15" >Δπ=0.30%</text>
<rect x="240.60" y="124.10" width="133.80" height="98.80" fill="none" stroke="#9a9a9a" stroke-width="0.9"/>
<line x1="240.60" y1="124.10" x2="240.60" y2="222.90" stroke="#858585" stroke-width="0.9"/>
<line x1="253.98" y1="222.90" x2="253.98" y2="224.30" stroke="#333" stroke-width="0.5"/>
<text x="253.98" y="229.10" font-size="4.8" font-family="'DejaVu Sans','Liberation Sans',sans-serif" text-anchor="middle" fill="#111" stroke="#111" stroke-width="0.15" >−0.2</text>
<line x1="280.74" y1="222.90" x2="280.74" y2="224.30" stroke="#333" stroke-width="0.5"/>
<text x="280.74" y="229.10" font-size="4.8" font-family="'DejaVu Sans','Liberation Sans',sans-serif" text-anchor="middle" fill="#111" stroke="#111" stroke-width="0.15" >−0.1</text>
<line x1="307.50" y1="222.90" x2="307.50" y2="224.30" stroke="#333" stroke-width="0.5"/>
<text x="307.50" y="229.10" font-size="4.8" font-family="'DejaVu Sans','Liberation Sans',sans-serif" text-anchor="middle" fill="#111" stroke="#111" stroke-width="0.15" >0.0</text>
<line x1="334.26" y1="222.90" x2="334.26" y2="224.30" stroke="#333" stroke-width="0.5"/>
<text x="334.26" y="229.10" font-size="4.8" font-family="'DejaVu Sans','Liberation Sans',sans-serif" text-anchor="middle" fill="#111" stroke="#111" stroke-width="0.15" >0.1</text>
<line x1="361.02" y1="222.90" x2="361.02" y2="224.30" stroke="#333" stroke-width="0.5"/>
<text x="361.02" y="229.10" font-size="4.8" font-family="'DejaVu Sans','Liberation Sans',sans-serif" text-anchor="middle" fill="#111" stroke="#111" stroke-width="0.15" >0.2</text>
<line x1="239.20" y1="222.90" x2="240.60" y2="222.90" stroke="#333" stroke-width="0.5"/>
<text x="238.20" y="224.80" font-size="4.7" font-family="'DejaVu Sans','Liberation Sans',sans-serif" text-anchor="end" fill="#111" stroke="#111" stroke-width="0.15" >0</text>
<line x1="239.20" y1="210.55" x2="240.60" y2="210.55" stroke="#333" stroke-width="0.5"/>
<text x="238.20" y="212.45" font-size="4.7" font-family="'DejaVu Sans','Liberation Sans',sans-serif" text-anchor="end" fill="#111" stroke="#111" stroke-width="0.15" >500</text>
<line x1="239.20" y1="198.20" x2="240.60" y2="198.20" stroke="#333" stroke-width="0.5"/>
<text x="238.20" y="200.10" font-size="4.7" font-family="'DejaVu Sans','Liberation Sans',sans-serif" text-anchor="end" fill="#111" stroke="#111" stroke-width="0.15" >1000</text>
<line x1="239.20" y1="185.85" x2="240.60" y2="185.85" stroke="#333" stroke-width="0.5"/>
<text x="238.20" y="187.75" font-size="4.7" font-family="'DejaVu Sans','Liberation Sans',sans-serif" text-anchor="end" fill="#111" stroke="#111" stroke-width="0.15" >1500</text>
<line x1="239.20" y1="173.50" x2="240.60" y2="173.50" stroke="#333" stroke-width="0.5"/>
<text x="238.20" y="175.40" font-size="4.7" font-family="'DejaVu Sans','Liberation Sans',sans-serif" text-anchor="end" fill="#111" stroke="#111" stroke-width="0.15" >2000</text>
<line x1="239.20" y1="161.15" x2="240.60" y2="161.15" stroke="#333" stroke-width="0.5"/>
<text x="238.20" y="163.05" font-size="4.7" font-family="'DejaVu Sans','Liberation Sans',sans-serif" text-anchor="end" fill="#111" stroke="#111" stroke-width="0.15" >2500</text>
<line x1="239.20" y1="148.80" x2="240.60" y2="148.80" stroke="#333" stroke-width="0.5"/>
<text x="238.20" y="150.70" font-size="4.7" font-family="'DejaVu Sans','Liberation Sans',sans-serif" text-anchor="end" fill="#111" stroke="#111" stroke-width="0.15" >3000</text>
<line x1="239.20" y1="136.45" x2="240.60" y2="136.45" stroke="#333" stroke-width="0.5"/>
<text x="238.20" y="138.35" font-size="4.7" font-family="'DejaVu Sans','Liberation Sans',sans-serif" text-anchor="end" fill="#111" stroke="#111" stroke-width="0.15" >3500</text>
<line x1="239.20" y1="124.10" x2="240.60" y2="124.10" stroke="#333" stroke-width="0.5"/>
<text x="238.20" y="126.00" font-size="4.7" font-family="'DejaVu Sans','Liberation Sans',sans-serif" text-anchor="end" fill="#111" stroke="#111" stroke-width="0.15" >4000</text>
<text x="295.60" y="238.30" font-size="6.0" font-family="'Liberation Serif','Times New Roman',serif" text-anchor="middle" fill="#111" stroke="#111" stroke-width="0.15" font-style="italic">(b) Δπ(%)</text>
<text x="79.40" y="249.80" font-size="8.66" font-family="'Liberation Serif','Times New Roman',serif" text-anchor="start" fill="#000" stroke="#000" stroke-width="0.38" >Performance dispersion due to geometric uncertainties&#160; at design point and near stall</text></svg>
</body></html>
